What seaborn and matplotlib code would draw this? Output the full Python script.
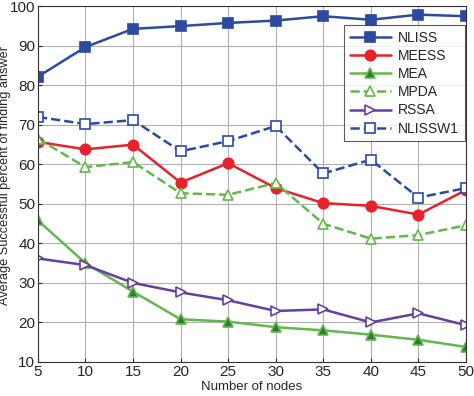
import pandas as pd
import matplotlib.pyplot as plt
import seaborn as sns

# data
nodes = [5, 10, 15, 20, 25, 30, 35, 40, 45, 50]
nliss = [82.2, 89.7, 94.3, 95.0, 95.8, 96.4, 97.5, 96.6, 97.9, 97.5]
meess = [65.7, 63.8, 65.0, 55.4, 60.3, 54.0, 50.2, 49.5, 47.3, 53.5]
mea = [45.8, 35.0, 27.8, 20.8, 20.2, 18.8, 18.0, 16.9, 15.6, 13.8]
mpda = [66.5, 59.3, 60.6, 52.7, 52.3, 55.3, 45.0, 41.2, 42.1, 44.6]
rssa = [36.2, 34.5, 30.0, 27.6, 25.6, 22.9, 23.3, 20.0, 22.3, 19.3]
nlissw1 = [72.0, 70.2, 71.2, 63.3, 65.9, 69.7, 57.7, 61.2, 51.6, 54.0]

series = [
    ("NLISS", nliss, dict(color="#2b4aa0", marker="s", mfc="#2b4aa0", ls="-")),
    ("MEESS", meess, dict(color="#e8212b", marker="o", mfc="#e8212b", ls="-")),
    ("MEA", mea, dict(color="#62b84a", marker="^", mfc="#2e7a3a", ls="-")),
    ("MPDA", mpda, dict(color="#62b84a", marker="^", mfc="white", ls="--")),
    ("RSSA", rssa, dict(color="#6540a0", marker=">", mfc="white", ls="-")),
    ("NLISSW1", nlissw1, dict(color="#2b4aa8", marker="s", mfc="white", ls="--")),
]

sns.set_style("ticks")
plt.rcParams["font.family"] = ["Liberation Sans", "DejaVu Sans"]

fig = plt.figure(figsize=(4.74, 3.96), dpi=100)
ax = fig.add_axes([0.08, 0.086, 0.903, 0.898])

for name, vals, st in series:
    df = pd.DataFrame({"nodes": nodes, "value": vals})
    sns.lineplot(data=df, x="nodes", y="value", ax=ax, label=name,
                 color=st["color"], marker=st["marker"], linestyle=st["ls"],
                 markerfacecolor=st["mfc"], markeredgecolor=st["color"],
                 markeredgewidth=1.2, markersize=7.5, linewidth=1.8)

ax.set_xlim(5, 50)
ax.set_ylim(10, 100)
ax.set_xticks(nodes)
ax.set_yticks(range(10, 101, 10))
ax.grid(True, color="#b0b0b0", linewidth=0.8)
ax.tick_params(direction="in", labelsize=11, length=3, pad=2)
for s in ax.spines.values():
    s.set_color("#333333")
ax.set_xlabel("Number of nodes", fontsize=9.5, labelpad=2)
ax.set_ylabel("Average Successful percent of finding answer", fontsize=9.2, labelpad=0)
ax.yaxis.set_label_coords(-0.062, 0.525)

leg = ax.legend(loc="upper right", bbox_to_anchor=(0.997, 0.947), fontsize=10,
                handlelength=3.0, frameon=True, fancybox=False, borderaxespad=0,
                borderpad=0.4, labelspacing=0.3, handletextpad=0.5)
leg.get_frame().set_edgecolor("#333333")
leg.get_frame().set_linewidth(0.8)

fig.savefig("out.png", dpi=100)
